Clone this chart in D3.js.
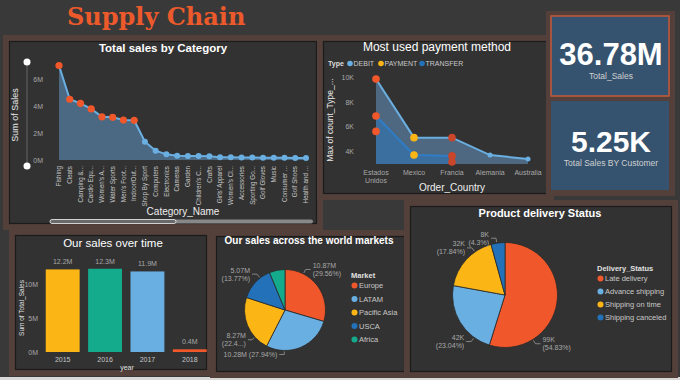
<!DOCTYPE html>
<html><head><meta charset="utf-8">
<script src="https://cdn.jsdelivr.net/npm/d3@7"></script>
<style>
body{margin:0;background:#393939;}
svg{display:block;font-family:"Liberation Sans",Arial,sans-serif;}
</style>
</head><body>
<svg id="c" width="680" height="380"></svg>
<script>
// ---------------- DATA ----------------
const categories = ["Fishing","Cleats","Camping &...","Cardio Equ...","Women's A...","Water Sports","Men's Foot...","Indoor/Out...","Shop By Sport","Computers","Electronics","Cameras","Garden","Children's C...","Crafts","Girls' Apparel","Women's Cl...","Accessories","Sporting Go...","Golf Gloves","Music","Consumer ...","Golf Shoes","Health and ..."];
const categorySales = [7.0,4.5,4.2,3.78,3.2,3.16,2.96,2.94,1.36,0.69,0.42,0.32,0.3,0.3,0.28,0.2,0.2,0.18,0.18,0.17,0.16,0.16,0.15,0.15]; // millions
const catTicks = [0,2,4,6];

const countries = ["Estados Unidos","Mexico","Francia","Alemania","Australia"];
const paymentTypes = ["DEBIT","PAYMENT","TRANSFER"];
const debitCounts = [9880,5090,5090,3670,3350];
const transferCounts = [6860,3670,3600,null,null];
const paymentCounts = [5600,null,3100,null,null];
const payTicks = [4000,6000,8000,10000];

const years = ["2015","2016","2017","2018"];
const yearSales = [12.2,12.3,11.9,0.4]; // millions
const yearTicks = [0,5,10];

const markets = ["Europe","LATAM","Pacific Asia","USCA","Africa"];
const marketSales = [10.873,10.277,8.273,5.066,2.295]; // millions

const deliveryStatus = ["Late delivery","Advance shipping","Shipping on time","Shipping canceled"];
const deliveryCounts = [98977,41592,32196,7754];

const kpiValues = ["36.78M","5.25K"];
const kpiLabels = ["Total_Sales","Total  Sales BY Customer"];

// ---------------- STYLE ----------------
const C = {orange:"#f0572a", lblue:"#6aafe2", yellow:"#fbb616", dblue:"#2371b9", teal:"#13ab8c",
  brown:"#54403a", panel:"#323232", edge:"#1b1b1b", tick:"#a8a8a8", label:"#c8c8c8"};

const svg = d3.select("#c");
svg.append("rect").attr("width",680).attr("height",380).attr("fill","#393939");
svg.append("rect").attr("x",0).attr("y",377).attr("width",680).attr("height",3).attr("fill","#d8d8d8");

function panel(x0,y0,x1,y1){
  svg.append("rect").attr("x",x0-6).attr("y",y0-6).attr("width",x1-x0+12).attr("height",y1-y0+12).attr("fill",C.brown);
  svg.append("rect").attr("x",x0+0.5).attr("y",y0+0.5).attr("width",x1-x0-1).attr("height",y1-y0-1)
    .attr("fill",C.panel).attr("stroke",C.edge).attr("stroke-width",1.2);
}
function title(t,x,y,size,weight){
  svg.append("text").attr("x",x).attr("y",y).attr("text-anchor","middle").attr("fill","#fff")
    .attr("font-size",size).attr("font-weight",weight).text(t);
}

// Main title
svg.append("text").attr("x",67).attr("y",25).attr("fill","#ec5a2c").attr("font-family","'DejaVu Serif',serif")
  .attr("font-weight","bold").attr("font-size",24).text("Supply Chain");

panel(9,41,317,224);
panel(323,41,548,194);
panel(15,235,207,370);
panel(216,236,405,372);
panel(410,206,672,372);

// ---------------- Chart 1: Total sales by Category ----------------
title("Total sales by Category",163,52,11.5,"bold");
{
  const x = d3.scalePoint().domain(categories).range([59,306]);
  const y = d3.scaleLinear().domain([0,7]).range([160,65.5]);
  const g = svg.append("g");
  // slider
  g.append("line").attr("x1",27).attr("x2",27).attr("y1",62).attr("y2",166).attr("stroke","#555").attr("stroke-width",1.5);
  g.selectAll("circle.s").data([62,166]).join("circle").attr("cx",27).attr("cy",d=>d).attr("r",3.5).attr("fill","#fff");
  g.append("text").attr("transform","translate(18,115) rotate(-90)").attr("text-anchor","middle")
    .attr("fill","#e8e8e8").attr("font-size",9).text("Sum of Sales");
  const ax = g.append("g").attr("transform","translate(46,0)")
    .call(d3.axisLeft(y).tickValues(catTicks).tickFormat(d=>d+"M").tickSize(0));
  ax.select(".domain").remove();
  ax.selectAll("text").attr("fill",C.tick).attr("font-size",7).attr("font-family","Liberation Sans");
  const data = categories.map((c,i)=>({c,v:categorySales[i],i}));
  g.append("path").datum(data).attr("fill","#4c6984")
    .attr("d",d3.area().x(d=>x(d.c)).y0(y(0)).y1(d=>y(d.v)));
  g.append("path").datum(data).attr("fill","none").attr("stroke",C.lblue).attr("stroke-width",2)
    .attr("d",d3.line().x(d=>x(d.c)).y(d=>y(d.v)));
  g.selectAll("circle.p").data(data).join("circle").attr("cx",d=>x(d.c)).attr("cy",d=>y(d.v))
    .attr("r",d=>d.i<8?3.6:3).attr("fill",d=>d.i<8?C.orange:C.lblue);
  g.selectAll("text.xl").data(data).join("text")
    .attr("transform",d=>`translate(${x(d.c)},166) rotate(-90)`).attr("dy","0.35em")
    .attr("text-anchor","end").attr("fill",C.label).attr("font-size",6.3).text(d=>d.c);
  g.append("text").attr("x",183).attr("y",215).attr("text-anchor","middle").attr("fill","#eee")
    .attr("font-size",10).text("Category_Name");
  g.append("rect").attr("x",50).attr("y",219.5).attr("width",263).attr("height",4).attr("rx",2).attr("fill","#888");
  g.append("rect").attr("x",50).attr("y",219.5).attr("width",126).attr("height",4).attr("rx",2).attr("fill","#6a6a6a").attr("stroke","#eee").attr("stroke-width",0.8);
}

// ---------------- Chart 2: Most used payment method ----------------
title("Most used payment method",437,51,12,"normal");
{
  const x = d3.scalePoint().domain(countries).range([376,528]);
  const y = d3.scaleLinear().domain([4000,10000]).range([151,77.5]);
  const base = 164;
  const g = svg.append("g");
  // legend
  g.append("text").attr("x",328).attr("y",66).attr("fill","#ddd").attr("font-size",7).attr("font-weight","bold").text("Type");
  const legX = [350,381,422];
  const legC = [C.lblue,C.yellow,C.dblue];
  paymentTypes.forEach((t,i)=>{
    g.append("circle").attr("cx",legX[i]).attr("cy",63.5).attr("r",2.8).attr("fill",legC[i]);
    g.append("text").attr("x",legX[i]+3.5).attr("y",66).attr("fill",C.label).attr("font-size",7).text(t);
  });
  g.append("text").attr("transform","translate(333,120) rotate(-90)").attr("text-anchor","middle")
    .attr("fill","#e8e8e8").attr("font-size",8.5).text("Max of count_Type_...");
  const ax = g.append("g").attr("transform","translate(357,0)")
    .call(d3.axisLeft(y).tickValues(payTicks).tickFormat(d=>d/1000+"K").tickSize(0));
  ax.select(".domain").remove();
  ax.selectAll("text").attr("fill",C.tick).attr("font-size",7).attr("font-family","Liberation Sans");
  const deb = countries.map((c,i)=>({c,v:debitCounts[i]}));
  const tra = countries.map((c,i)=>({c,v:transferCounts[i]})).filter(d=>d.v!=null);
  const pay = countries.map((c,i)=>({c,v:paymentCounts[i]})).filter(d=>d.v!=null);
  g.append("path").datum(deb).attr("fill","#4e6882").attr("d",d3.area().x(d=>x(d.c)).y0(base).y1(d=>y(d.v)));
  g.append("path").datum(tra).attr("fill","#3b6fa0").attr("d",d3.area().x(d=>x(d.c)).y0(base).y1(d=>y(d.v)));
  g.append("path").datum(deb).attr("fill","none").attr("stroke",C.lblue).attr("stroke-width",2).attr("d",d3.line().x(d=>x(d.c)).y(d=>y(d.v)));
  g.append("path").datum(tra).attr("fill","none").attr("stroke","#2f7dc6").attr("stroke-width",2).attr("d",d3.line().x(d=>x(d.c)).y(d=>y(d.v)));
  const markColor = {"Estados Unidos":C.orange,"Mexico":C.yellow,"Francia":"#c9462a","Alemania":C.lblue,"Australia":C.lblue};
  const pts = [...deb,...tra,...pay];
  g.selectAll("circle.m").data(pts).join("circle").attr("cx",d=>x(d.c)).attr("cy",d=>y(d.v))
    .attr("r",d=>markColor[d.c]===C.lblue?2.5:3.8).attr("fill",d=>markColor[d.c]);
  countries.forEach(c=>{
    const parts = c.split(" ");
    parts.forEach((p,j)=>g.append("text").attr("x",x(c)).attr("y",175+j*8).attr("text-anchor","middle")
      .attr("fill",C.tick).attr("font-size",7).text(p));
  });
  g.append("text").attr("x",452).attr("y",191).attr("text-anchor","middle").attr("fill","#eee").attr("font-size",10).text("Order_Country");
}

// ---------------- KPI cards ----------------
svg.append("rect").attr("x",546).attr("y",11).attr("width",129).attr("height",185).attr("fill",C.brown);
[[16,96],[101,190]].forEach(([y0,y1],i)=>{
  svg.append("rect").attr("x",551).attr("y",y0).attr("width",118).attr("height",y1-y0)
    .attr("fill","#35536f").attr("stroke",i===0?"#c65a3a":"none").attr("stroke-width",1.5);
  svg.append("text").attr("x",611).attr("y",i===0?65:152).attr("text-anchor","middle").attr("fill","#fff")
    .attr("font-weight","bold").attr("font-size",i===0?31:30).text(kpiValues[i]);
  svg.append("text").attr("x",611).attr("y",i===0?79:166).attr("text-anchor","middle").attr("fill","#d0d0d0")
    .attr("font-size",8.5).text(kpiLabels[i]);
});

// ---------------- Chart 3: Our sales over time ----------------
title("Our sales over time",113,247,11.5,"normal");
{
  const x = d3.scaleBand().domain(years).range([41.5,211]).paddingInner(0.2).paddingOuter(0.1);
  const y = d3.scaleLinear().domain([0,13]).range([352,264]);
  const g = svg.append("g");
  const colors = [C.yellow,C.teal,C.lblue,C.orange];
  g.append("text").attr("transform","translate(24,308) rotate(-90)").attr("text-anchor","middle")
    .attr("fill","#e0e0e0").attr("font-size",6.5).text("Sum of Total_Sales");
  const ax = g.append("g").attr("transform","translate(41,0)")
    .call(d3.axisLeft(y).tickValues(yearTicks).tickFormat(d=>d+"M").tickSize(0));
  ax.select(".domain").remove();
  ax.selectAll("text").attr("fill",C.tick).attr("font-size",7).attr("font-family","Liberation Sans");
  g.selectAll("rect.b").data(years).join("rect").attr("x",d=>x(d)).attr("width",x.bandwidth())
    .attr("y",(d,i)=>y(yearSales[i])).attr("height",(d,i)=>y(0)-y(yearSales[i])).attr("fill",(d,i)=>colors[i]);
  g.selectAll("text.v").data(years).join("text").attr("x",d=>x(d)+x.bandwidth()/2)
    .attr("y",(d,i)=>y(yearSales[i])-5).attr("text-anchor","middle").attr("fill",C.tick).attr("font-size",7)
    .text((d,i)=>yearSales[i].toFixed(1)+"M");
  g.selectAll("text.x").data(years).join("text").attr("x",d=>x(d)+x.bandwidth()/2).attr("y",362)
    .attr("text-anchor","middle").attr("fill",C.label).attr("font-size",7).text(d=>d);
  g.append("text").attr("x",127).attr("y",370).attr("text-anchor","middle").attr("fill","#e0e0e0").attr("font-size",7).text("year");
}

// ---------------- pie helper ----------------
function pieChart(names,values,colors,cx,cy,r,labelCfg,fmt){
  const g = svg.append("g").attr("transform",`translate(${cx},${cy})`);
  const arcs = d3.pie().sort(null)(values);
  const total = d3.sum(values);
  g.selectAll("path").data(arcs).join("path").attr("d",d3.arc().innerRadius(0).outerRadius(r))
    .attr("fill",(d,i)=>colors[i]).attr("stroke","#2a2a2a").attr("stroke-width",0.8);
  labelCfg.forEach(cfg=>{
    const a = cfg.angle*Math.PI/180;
    const sx = Math.sin(a), sy = -Math.cos(a);
    const p0 = [ (r+1)*sx, (r+1)*sy ];
    const p1 = [ (r+cfg.ext)*sx, (r+cfg.ext)*sy ];
    const dir = sx>=0?1:-1;
    const p2 = [ p1[0]+dir*cfg.hor, p1[1] ];
    g.append("polyline").attr("points",[p0,p1,p2].map(p=>p.join(",")).join(" "))
      .attr("fill","none").attr("stroke","#9a9a9a").attr("stroke-width",0.8);
    const v = values[cfg.idx];
    const pct = "("+(v/total*100).toFixed(2).replace(/0$/,"")+"%)";
    const lines = cfg.single ? [fmt(v)+" "+pct] : [fmt(v), cfg.truncate? pct.slice(0,5)+"...)" : pct];
    const t = g.append("text").attr("x",p2[0]+dir*2).attr("text-anchor",dir>0?"start":"end")
      .attr("fill",C.tick).attr("font-size",7);
    const y0 = p2[1] + 2.5 - (lines.length-1)*4;
    lines.forEach((l,j)=>t.append("tspan").attr("x",p2[0]+dir*2).attr("y",y0+j*8).text(l));
  });
  return arcs;
}
function legend(titleText,names,colors,x,y,step){
  svg.append("text").attr("x",x).attr("y",y).attr("fill","#e0e0e0").attr("font-size",7.5).attr("font-weight","bold").text(titleText);
  names.forEach((n,i)=>{
    svg.append("circle").attr("cx",x+3.5).attr("cy",y+10+i*step-2.5).attr("r",3).attr("fill",colors[i]);
    svg.append("text").attr("x",x+8).attr("y",y+10+i*step).attr("fill",C.label).attr("font-size",7.5).text(n);
  });
}

// ---------------- Chart 4: markets ----------------
title("Our sales across the world markets",309,244,10,"bold");
pieChart(markets,marketSales,[C.orange,C.lblue,C.yellow,C.dblue,C.teal],285,310,40.5,
  [{idx:0,angle:27,ext:5,hor:5},{idx:3,angle:322,ext:5,hor:5},{idx:2,angle:228,ext:4,hor:4,truncate:true},{idx:1,angle:181,ext:4,hor:5,single:true}],
  v=>v.toFixed(2)+"M");
legend("Market",markets,[C.orange,C.lblue,C.yellow,C.dblue,C.teal],351,278,13.5);

// ---------------- Chart 5: delivery ----------------
title("Product delivery Status",540,217,11,"bold");
pieChart(deliveryStatus,deliveryCounts,[C.orange,C.lblue,C.yellow,C.dblue],505,295,52.5,
  [{idx:0,angle:148,ext:5,hor:5},{idx:1,angle:216,ext:5,hor:5},{idx:2,angle:325,ext:5,hor:5},{idx:3,angle:351,ext:5,hor:5}],
  v=>Math.round(v/1000)+"K");
legend("Delivery_Status",deliveryStatus,[C.orange,C.lblue,C.yellow,C.dblue],597,271,13);
</script>
</body></html>
